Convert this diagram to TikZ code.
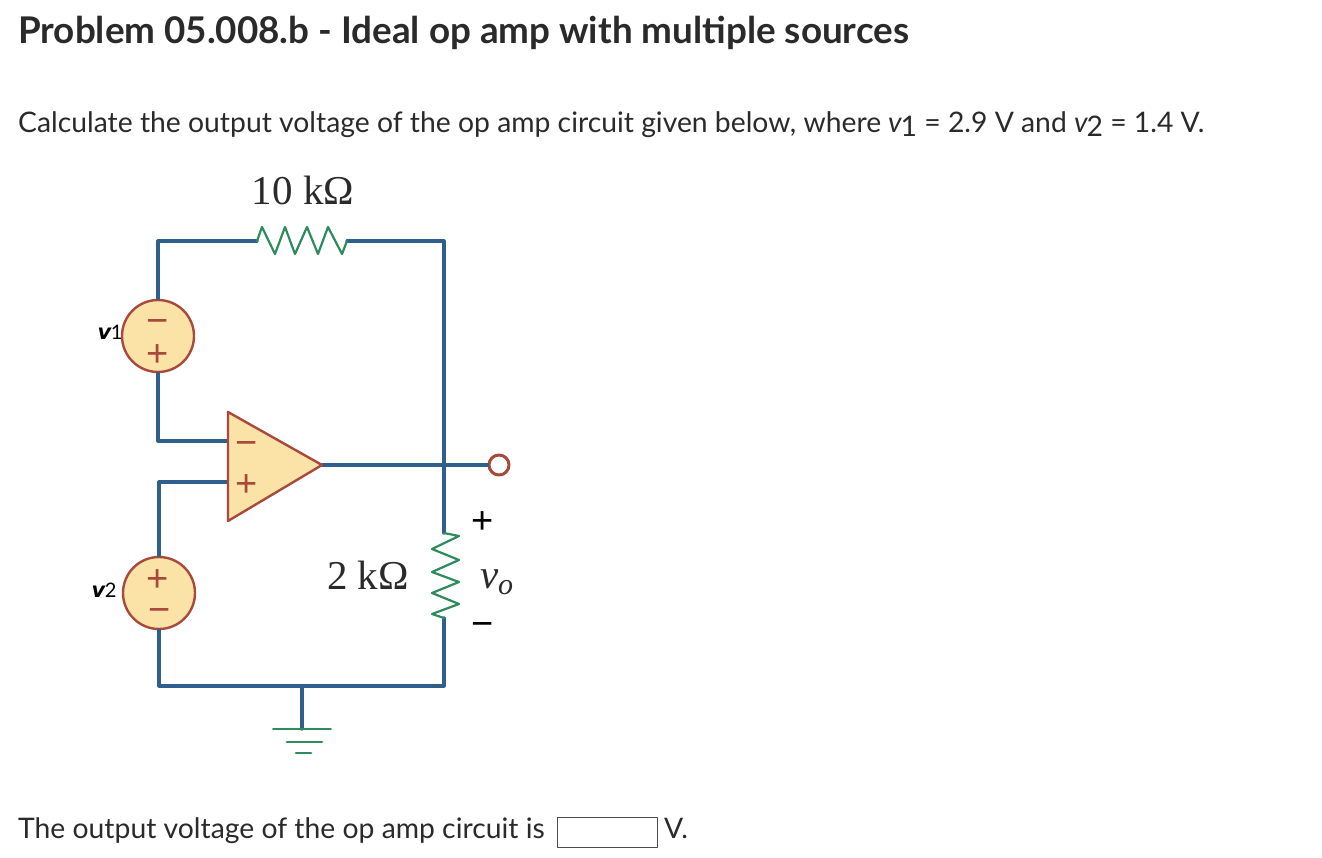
\documentclass[tikz,border=0pt]{standalone}
\usepackage{fontspec}
\setmainfont{Lato}
\newfontfamily\labelfont{Liberation Serif}
\newfontfamily\signfont{Liberation Sans}
\newfontfamily\namefont{DejaVu Sans}
\newcommand{\varsub}[2]{{\itshape #1}\kern-1pt\raisebox{-4pt}{#2}}
\definecolor{wireblue}{HTML}{2F5F8A}
\definecolor{partred}{HTML}{A8493C}
\definecolor{partfill}{HTML}{FBE3A8}
\definecolor{resgreen}{HTML}{2E8B5C}
\definecolor{inktext}{HTML}{2A2A2A}
\tikzset{
  wire/.style={color=wireblue,line width=3.2pt},
  resistor/.style={color=resgreen,line width=2.2pt},
  source/.style={circle,draw=partred,fill=partfill,line width=2.4pt,minimum size=72pt,inner sep=0pt},
  sign/.style={color=partred,font=\signfont\fontsize{38}{38}\selectfont,inner sep=0pt,yshift=-3pt,execute at begin node=\vphantom{+}},
  part value/.style={color=inktext,font=\labelfont\fontsize{41}{41}\selectfont,inner sep=0pt},
  source name/.style={color=black,font=\namefont\bfseries\fontsize{21}{21}\selectfont,inner sep=0pt},
  text line/.style={color=inktext,anchor=base west,inner sep=0pt,font=\fontsize{28.3}{34}\selectfont}
}
\begin{document}
\begin{tikzpicture}[x=1pt,y=-1pt,line cap=round,line join=round]
  \useasboundingbox (0,0) rectangle (1322,858);
  \node[text line,font=\bfseries\fontsize{36.8}{44}\selectfont] (title) at (18,43.5) {Problem 05.008.b - Ideal op amp with multiple sources};
  \node[text line] (question) at (18,133) {Calculate the output voltage of the op amp circuit given below, where \varsub{v}{1} = 2.9 V and \varsub{v}{2} = 1.4 V.};
  \node[text line] (answer) at (18,838) {The output voltage of the op amp circuit is};
  \node[draw=black!70,line width=1pt,minimum width=100pt,minimum height=30pt,anchor=west,inner sep=0pt] (box) at (557,832) {};
  \node[text line] (unit) at (664,838) {V.};

  \node[source] (vone) at (158,336) {};
  \node[source] (vtwo) at (159,593) {};
  \coordinate (tl) at (158,241);
  \coordinate (tr) at (444,241);
  \coordinate (bl) at (158,686);
  \coordinate (br) at (444,686);
  \coordinate (gnd) at (302,686);
  \coordinate (gndbar) at (302,729);
  \coordinate (ampa) at (228,412);
  \coordinate (ampb) at (228,521);
  \coordinate (ampc) at (322,465);
  \coordinate (minus) at (228,441);
  \coordinate (plus) at (228,482);
  \coordinate (minusl) at (158,441);
  \coordinate (plusl) at (158,482);
  \coordinate (rone) at (257,241);
  \coordinate (ronee) at (347,241);
  \coordinate (rtwo) at (444,533);
  \coordinate (rtwoe) at (444,618);
  \coordinate (outj) at (444,465);
  \node[circle,draw=partred,fill=white,line width=3pt,minimum size=20pt,inner sep=0pt] (out) at (499,465) {};

  \draw[wire] (vone.north) -- (tl) -- (rone);
  \draw[wire] (ronee) -- (tr) -- (rtwo);
  \draw[wire] (vone.south) -- (minusl) -- (minus);
  \draw[wire] (vtwo.north) -- (vtwo.north |- plusl) -- (plus);
  \draw[wire] (vtwo.south) -- (vtwo.south |- bl) -- (br) -- (rtwoe);
  \draw[wire] (ampc) -- (outj) -- (out.west);
  \draw[wire] (gnd) -- (gndbar);

  \draw[color=partred,fill=partfill,line width=2.4pt] (ampa) -- (ampc) -- (ampb) -- cycle;

  % resistors
  \draw[resistor] (rone) -- (262,227) -- (275,254) -- (285,227) -- (295,254) -- (307,227)
        -- (318,254) -- (328,227) -- (342,254) -- (ronee);
  \draw[resistor] (rtwo) -- (459,536) -- (432,549) -- (459,560) -- (432,572) -- (459,582)
        -- (432,593) -- (459,604) -- (432,614) -- (rtwoe);

  % ground
  \draw[resistor,line width=1.6pt] (273,729) -- (331,729);
  \draw[resistor,line width=2.8pt] (287,742) -- (322,742);
  \draw[resistor,line width=2.8pt] (296,753) -- (311,753);

  \node[sign] (vonem) at (158,320) {−};
  \node[sign] (vonep) at (158,353) {+};
  \node[sign] (vtwop) at (158,578) {+};
  \node[sign] (vtwom) at (160,609) {−};
  \node[sign] (ampm) at (247,442) {−};
  \node[sign] (ampp) at (247,483) {+};

  \node[part value] (rfval) at (303,190) {10 kΩ};
  \node[part value] (rlval) at (368,575) {2 kΩ};
  \node[source name] (vonename) at (110,332) {\textit{v}\kern-1pt{\normalfont\fontsize{20}{20}\selectfont 1}};
  \node[source name] (vtwoname) at (104,590) {\textit{v}\kern-1pt{\normalfont\fontsize{20}{20}\selectfont 2}};
  \node[sign,color=black] (vop) at (483,520) {+};
  \node[sign,color=black] (vom) at (483,623) {−};
  \node[part value] (vo) at (497,582) {\itshape v\kern-1pt\raisebox{-6pt}{\fontsize{30}{30}\selectfont o}};
\end{tikzpicture}
\end{document}
